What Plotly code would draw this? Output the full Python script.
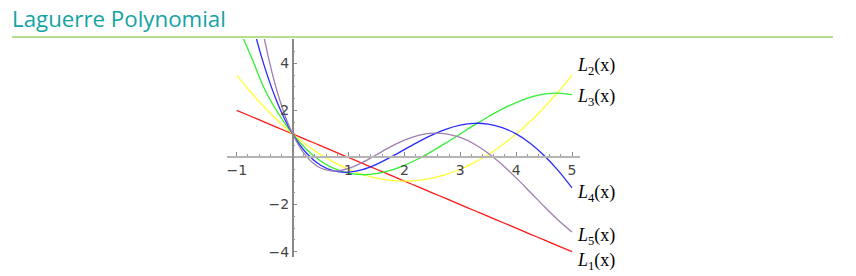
import plotly.graph_objects as go

# ---- data ----
x_vals = [-1, -0.75, -0.5, -0.25, 0, 0.25, 0.5, 0.75, 1, 1.25, 1.5, 1.75, 2,
          2.25, 2.5, 2.75, 3, 3.25, 3.5, 3.75, 4, 4.25, 4.5, 4.75, 5]
L1 = [2, 1.75, 1.5, 1.25, 1, 0.75, 0.5, 0.25, 0, -0.25, -0.5, -0.75, -1,
      -1.25, -1.5, -1.75, -2, -2.25, -2.5, -2.75, -3, -3.25, -3.5, -3.75, -4]
L2 = [3.5, 2.781, 2.125, 1.531, 1, 0.531, 0.125, -0.219, -0.5, -0.719, -0.875,
      -0.969, -1, -0.969, -0.875, -0.719, -0.5, -0.219, 0.125, 0.531, 1, 1.531,
      2.125, 2.781, 3.5]
L3 = [5.667, 4.331, 2.896, 1.846, 1, 0.341, -0.146, -0.477, -0.667, -0.732,
      -0.688, -0.549, -0.333, -0.055, 0.271, 0.628, 1, 1.372, 1.729, 2.055,
      2.333, 2.549, 2.688, 2.732, 2.667]
L4 = [8.708, 5.982, 3.836, 2.198, 1, 0.177, -0.331, -0.581, -0.625, -0.513,
      -0.289, 0.005, 0.333, 0.662, 0.961, 1.206, 1.375, 1.451, 1.419, 1.271,
      1, 0.604, 0.086, -0.549, -1.292]
L5 = [12.883, 8.334, 4.972, 2.589, 1, 0.037, -0.446, -0.577, -0.467, -0.210,
      0.116, 0.447, 0.733, 0.937, 1.033, 1.005, 0.85, 0.570, 0.178, -0.309,
      -0.867, -1.465, -2.073, -2.652, -3.167]

series_names = ["L1", "L2", "L3", "L4", "L5"]
series_vals = [L1, L2, L3, L4, L5]
series_colors = ["#ff1a1a", "#ffff33", "#33ee33", "#2a2aff", "#9f7fb0"]
label_texts = ["<i>L</i><sub>1</sub>(x)", "<i>L</i><sub>2</sub>(x)",
               "<i>L</i><sub>3</sub>(x)", "<i>L</i><sub>4</sub>(x)",
               "<i>L</i><sub>5</sub>(x)"]
# label anchor y (inside axis range) and extra pixel shift
label_y = [-4.20, 3.88, 2.55, -1.55, -3.36]
label_shift = [-5, 0, 0, 0, 0]

x_tick_vals = [-1, 1, 2, 3, 4, 5]
y_tick_vals = [-4, -2, 2, 4]

xmin, xmax = -1.174, 5.143
ymin, ymax = -4.225, 5.03

fig = go.Figure()
for name, vals, col in zip(series_names, series_vals, series_colors):
    fig.add_trace(go.Scatter(x=x_vals, y=vals, mode="lines", name=name,
                             line=dict(color=col, width=1.3, shape="spline"),
                             showlegend=False, hoverinfo="skip"))

for txt, ly, sh in zip(label_texts, label_y, label_shift):
    fig.add_annotation(x=5.05, y=ly, xref="x", yref="y", text=txt,
                       showarrow=False, xanchor="left", yanchor="middle",
                       yshift=sh,
                       font=dict(family="Liberation Serif, Times New Roman, serif",
                                 size=18, color="#000000"))

xpos = (0 - ymin) / (ymax - ymin)
ypos = (0 - xmin) / (xmax - xmin)

fig.update_layout(
    width=856, height=276,
    margin=dict(l=227, r=276, t=39, b=19),
    paper_bgcolor="white", plot_bgcolor="white",
    title=dict(text="Laguerre Polynomial", xref="container", yref="container",
               x=12 / 856, xanchor="left", y=1 - 19 / 276, yanchor="middle",
               font=dict(family="Open Sans, DejaVu Sans, sans-serif", size=22.3,
                         color="#13a3a3")),
    xaxis=dict(range=[xmin, xmax], anchor="free", position=xpos,
               showgrid=False, zeroline=False, showline=True,
               linecolor="#b4b4b4", linewidth=2,
               tickmode="array", tickvals=x_tick_vals, ticks="inside",
               ticklen=4, tickcolor="#888888", tickwidth=1,
               tickfont=dict(family="DejaVu Sans, sans-serif", size=14, color="#444444"),
               minor=dict(ticks="inside", tickmode="linear", tick0=0, dtick=0.2,
                          ticklen=2, tickcolor="#999999", tickwidth=1),
               fixedrange=True),
    yaxis=dict(range=[ymin, ymax], anchor="free", position=ypos,
               showgrid=False, zeroline=False, showline=True,
               linecolor="#888888", linewidth=1.5,
               tickmode="array", tickvals=y_tick_vals, ticks="inside",
               ticklen=4, tickcolor="#888888", tickwidth=1,
               tickfont=dict(family="DejaVu Sans, sans-serif", size=14, color="#444444"),
               minor=dict(ticks="inside", tickmode="linear", tick0=0, dtick=0.5,
                          ticklen=2, tickcolor="#999999", tickwidth=1),
               fixedrange=True),
)

# title underline
fig.add_shape(type="line", xref="paper", yref="paper",
              x0=(12 - 227) / 353, x1=(833 - 227) / 353,
              y0=(257 - 37) / 218, y1=(257 - 37) / 218,
              line=dict(color="#9ad661", width=1.5))

fig.write_html("out.html")
